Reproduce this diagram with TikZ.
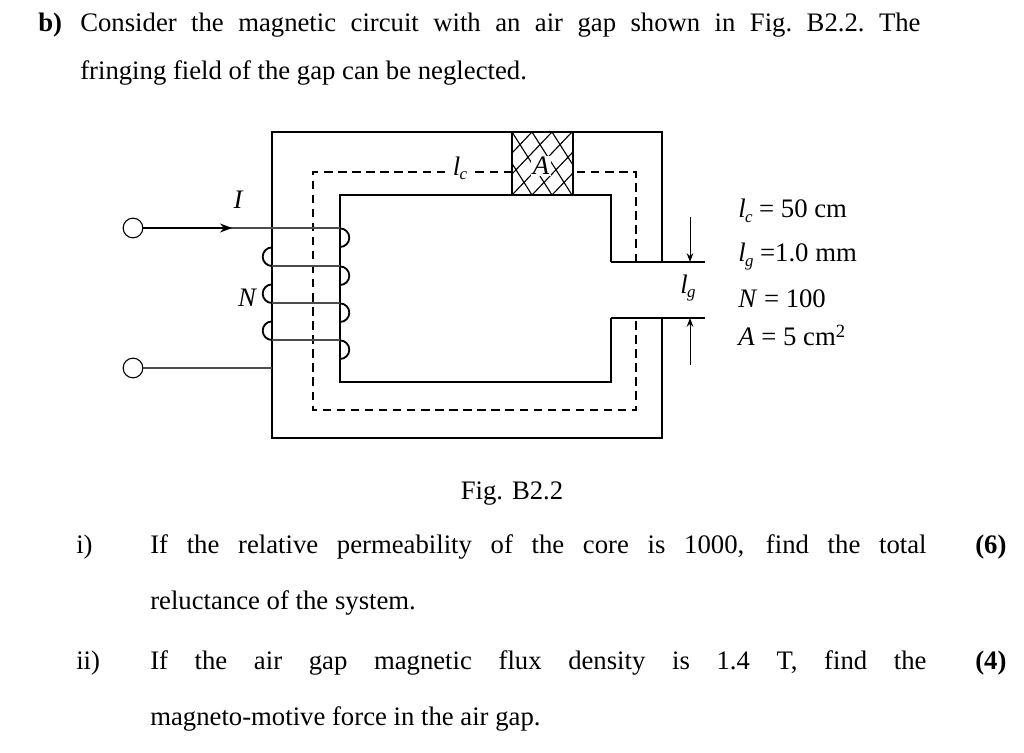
\documentclass[tikz,border=0pt]{standalone}
\usepackage{fontspec}
\setmainfont{Liberation Serif}
\usetikzlibrary{arrows.meta}
\tikzset{txt/.style={inner sep=0pt,anchor=base west,font=\fontsize{19}{22}\selectfont},
  lbl/.style={inner sep=0pt,font=\fontsize{19}{21}\selectfont},
  core/.style={line width=0.9pt},
  path/.style={dashed,line width=0.8pt,dash pattern=on 6pt off 4pt},
  wire/.style={line width=1.3pt,gray!60!black},
  loop/.style={line width=1.3pt},
  arrow/.style={-{Stealth[length=2.2mm]},line width=0.7pt}}
\newcommand\sub[2]{\textit{#1}\kern-0.5pt\raisebox{-0.35ex}{\fontsize{12}{12}\selectfont\textit{#2}}}
\begin{document}
\begin{tikzpicture}[x=0.025cm,y=-0.025cm]
	    \useasboundingbox (0,0) rectangle (1024,753);
	    % text
	    \node[txt] (b) at (38,32) {\textbf{b)}};
	    \node[txt] (l1) at (80,32) {\makebox[21cm][s]{Consider the magnetic circuit with an air gap shown in Fig.\ B2.2.\ The}};
	    \node[txt] (l2) at (80,80) {fringing field of the gap can be neglected.};
	    \node[txt,anchor=base] (fig) at (512,499) {Fig. B2.2};
	    \node[txt] (ri) at (76,553) {i)};
	    \node[txt] (q1) at (150,553) {\makebox[19.4cm][s]{If the relative permeability of the core is 1000, find the total}};
	    \node[txt] (m1) at (975,553) {\textbf{(6)}};
	    \node[txt] (q1b) at (150,609) {reluctance of the system.};
	    \node[txt] (rii) at (76,669) {ii)};
	    \node[txt] (q2) at (150,669) {\makebox[19.4cm][s]{If the air gap magnetic flux density is 1.4 T, find the}};
	    \node[txt] (m2) at (975,669) {\textbf{(4)}};
	    \node[txt] (q2b) at (150,725) {magneto-motive force in the air gap.};

	    % core
	    \draw[core] (662,262) -- (662,132) -- (272,132) -- (272,438) -- (662,438) -- (662,318);
	    \draw[core] (611,262) -- (611,195) -- (340,195) -- (340,382) -- (611,382) -- (611,318);
	    \draw[core] (611,262) -- (705,262);
	    \draw[core] (611,318) -- (705,318);
	    \fill[white] (512,132) rectangle (573,195);
	    \begin{scope}
	      \clip (512,132) rectangle (573,195);
	      \foreach \s in {-60,-40,...,80}
	        \draw[line width=0.8pt] (512+\s,195) -- (572+\s,132);
	      \foreach \s in {-60,-40,...,80}
	        \draw[line width=0.8pt] (512+\s,132) -- (552+\s,195);
	    \end{scope}
	    \draw[core] (512,132) rectangle (573,195);
	    \node[lbl,fill=white,inner sep=1pt,font=\fontsize{19}{21}\selectfont\itshape] (area) at (541,166) {A};
	    \draw[path] (636,262) -- (636,172) -- (573,172);
	    \draw[path] (512,172) -- (475,172);
	    \draw[path] (445,172) -- (313,172) -- (313,410) -- (636,410) -- (636,318);
	    \node[lbl] (lc) at (460,168) {\sub{l}{c}};

	    % coil
	    \node[draw,circle,minimum size=14pt,inner sep=0pt,line width=0.8pt] (t1) at (133,228) {};
	    \node[draw,circle,minimum size=14pt,inner sep=0pt,line width=0.8pt] (t2) at (133,368) {};
	    \coordinate (w1) at (340,228);
	    \coordinate (w2) at (272,368);
	    \draw[wire] (t1) -- (w1);
	    \draw[wire] (t2) -- (w2);
	    \draw[-{Stealth[length=3mm]},line width=0.8pt] (t1) -- (232,228);
	    \foreach \y in {266,303,340}
	      \draw[wire] (272,\y) -- (340,\y);
	    \foreach \y in {247,285,322,359}
	      \draw[loop] (340,\y) arc[start angle=90,end angle=-90,radius=9.3];
	    \foreach \y in {266,303,340}
	      \draw[loop] (272,\y) arc[start angle=90,end angle=270,radius=9.3];
	    \node[lbl,font=\fontsize{19}{21}\selectfont\itshape] (cur) at (238,200) {I};
	    \node[lbl,font=\fontsize{19}{21}\selectfont\itshape] (turns) at (247,298) {N};

	    % gap
	    \coordinate (ga) at (690,217);
	    \coordinate (gb) at (690,262);
	    \coordinate (gc) at (690,365);
	    \coordinate (gd) at (690,318);
	    \draw[arrow] (ga) -- (gb);
	    \draw[arrow] (gc) -- (gd);
	    \node[lbl] (lg) at (688,288) {\sub{l}{g}};

	    % data
	    \node[lbl,anchor=base west] (d1) at (738,218) {\sub{l}{c} = 50 cm};
	    \node[lbl,anchor=base west] (d2) at (738,262) {\sub{l}{g} =1.0 mm};
	    \node[lbl,anchor=base west] (d3) at (738,308) {\textit{N} = 100};
	    \node[lbl,anchor=base west] (d4) at (738,346) {\textit{A} = 5 cm\textsuperscript{2}};
	\end{tikzpicture}
\end{document}
